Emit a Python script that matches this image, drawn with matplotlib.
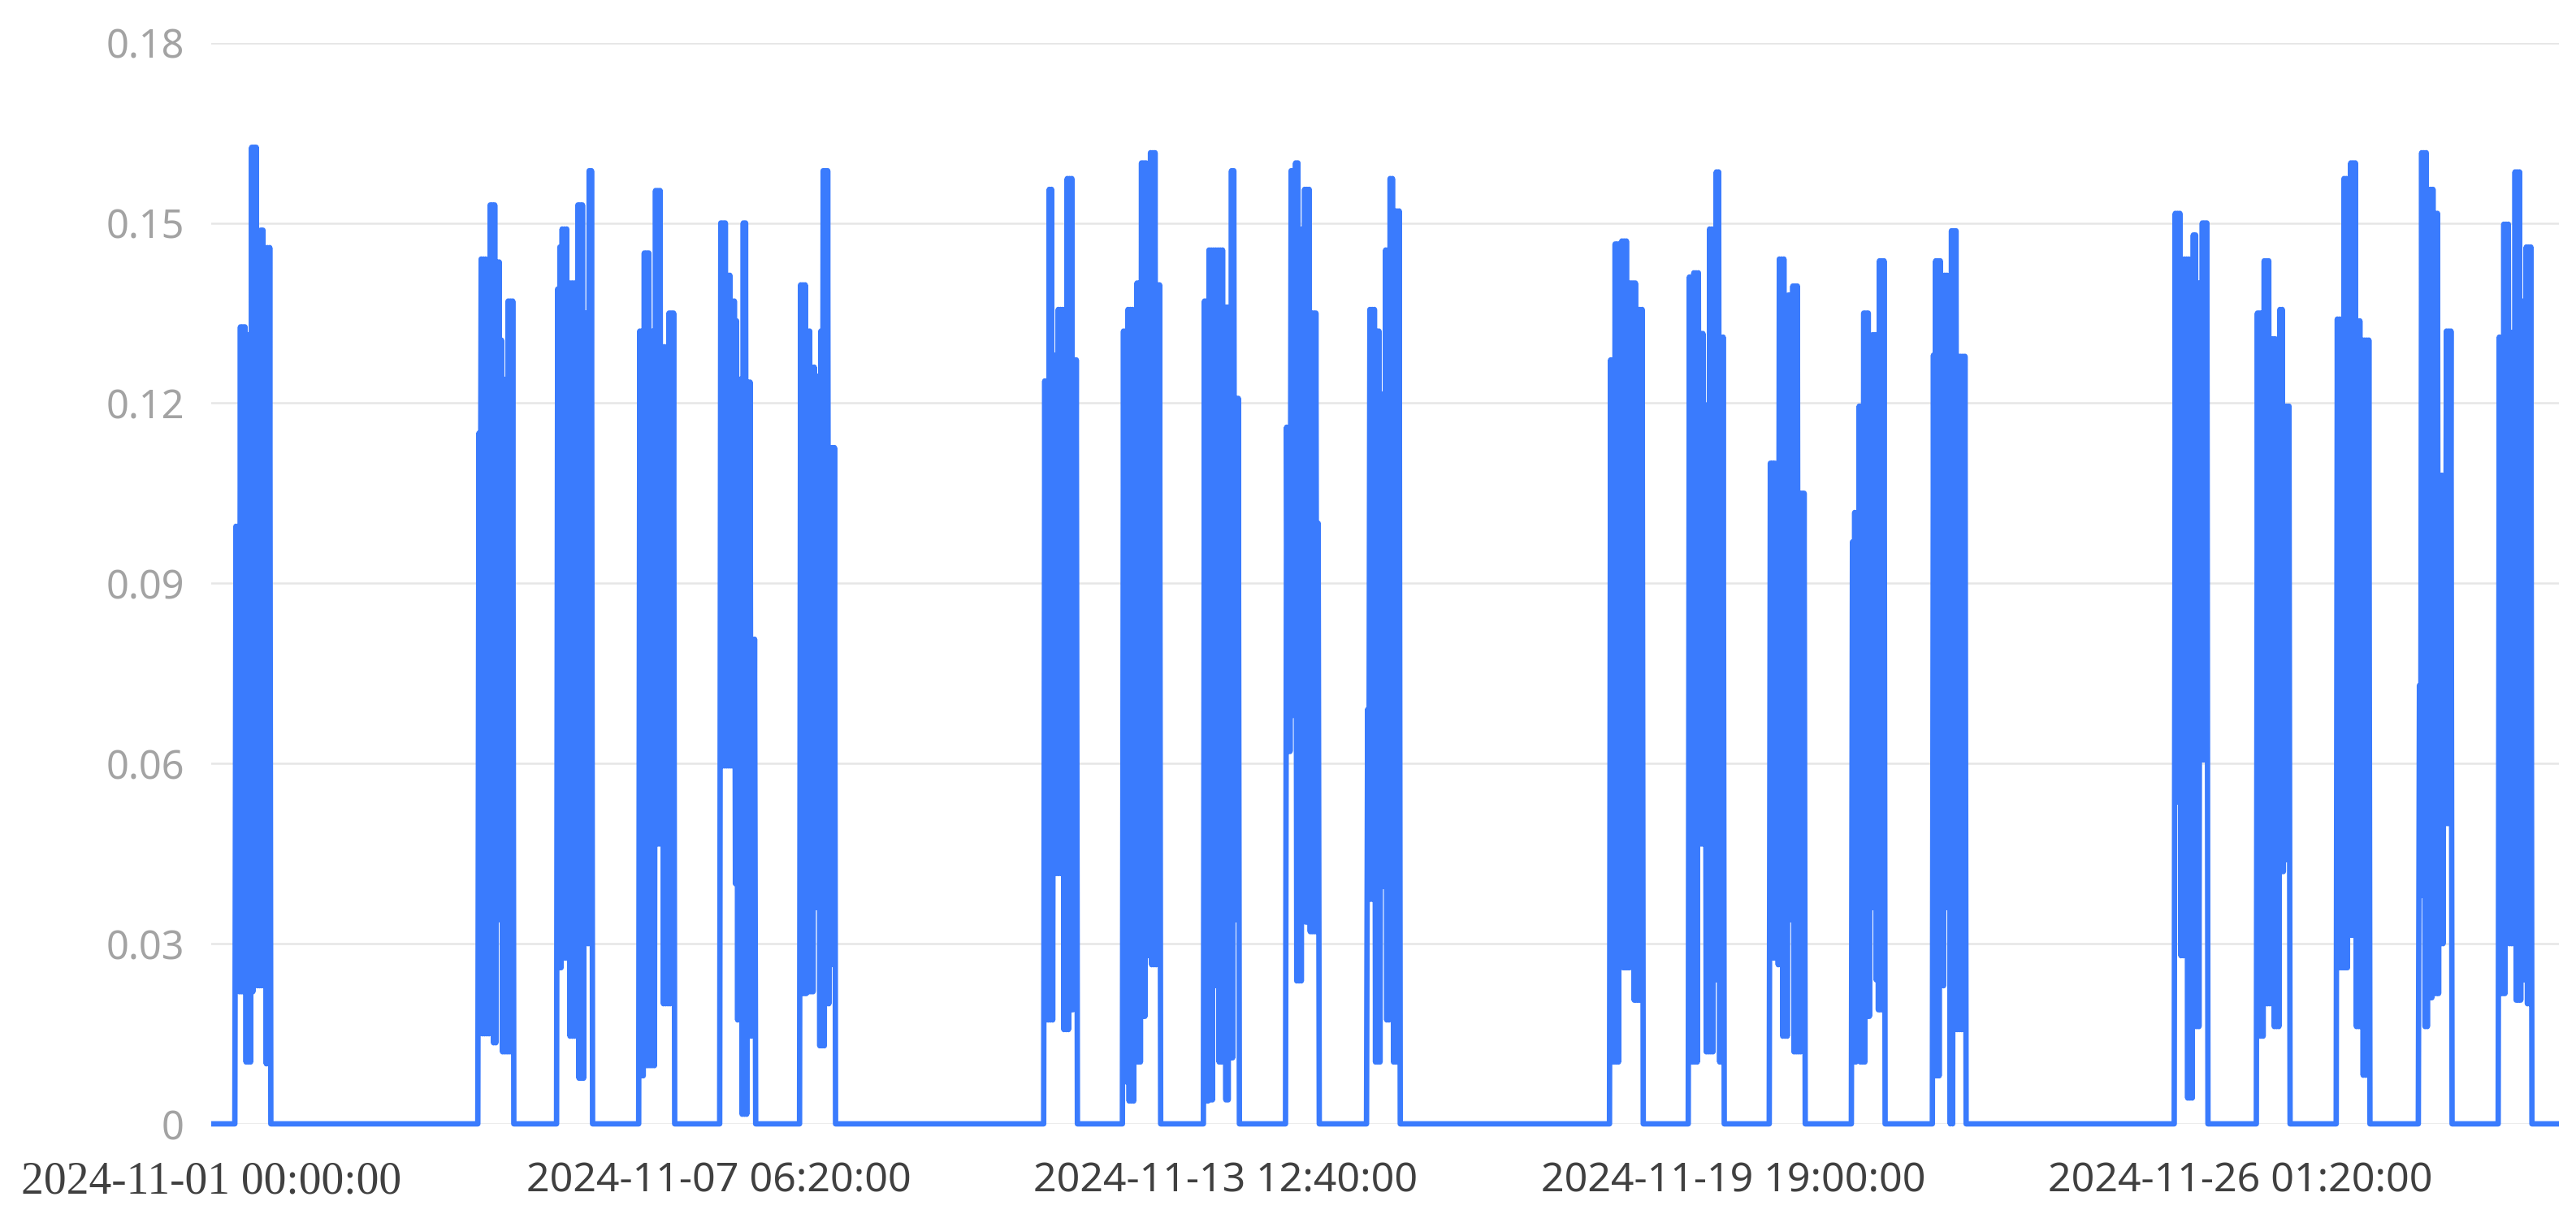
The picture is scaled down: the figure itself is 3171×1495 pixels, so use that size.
import numpy as np
import pandas as pd
import matplotlib
matplotlib.use("Agg")
import matplotlib.pyplot as plt

# ---------------- data ----------------
# 20-minute samples from 2024-11-01 00:00 to 2024-11-29 23:40; zero outside the working-day bursts
series_start = "2024-11-01 00:00:00"
n_points = 2088
step = "20min"
tick_every = 451

y_ticks = [0, 0.03, 0.06, 0.09, 0.12, 0.15, 0.18]

# each burst: (date, first 20-min slot of the day, values)
nov01 = [0.0995, 0.040, 0.0995, 0.022, 0.1327, 0.022, 0.1327, 0.022, 0.1327, 0.0103, 0.1314, 0.0103,
         0.1314, 0.0103, 0.1626, 0.022, 0.1626, 0.045, 0.1626, 0.023, 0.1446, 0.023, 0.1488, 0.023,
         0.1488, 0.023, 0.1459, 0.010, 0.1459, 0.010, 0.1459]
nov04 = [0.115, 0.069, 0.144, 0.015, 0.144, 0.015, 0.144, 0.015, 0.120, 0.015, 0.153, 0.026,
         0.153, 0.0135, 0.153, 0.0135, 0.1435, 0.034, 0.1435, 0.034, 0.1305, 0.012, 0.124, 0.012,
         0.124, 0.012, 0.137, 0.012, 0.137, 0.012, 0.137]
nov05 = [0.139, 0.026, 0.146, 0.026, 0.149, 0.0276, 0.149, 0.0276, 0.149, 0.0276, 0.140, 0.0146,
         0.140, 0.0146, 0.140, 0.0146, 0.140, 0.0146, 0.153, 0.0076, 0.153, 0.0076, 0.153, 0.0076,
         0.135, 0.030, 0.135, 0.030, 0.1587, 0.030, 0.1587]
nov06 = [0.132, 0.008, 0.132, 0.008, 0.145, 0.0097, 0.145, 0.0097, 0.145, 0.0097, 0.132, 0.0097,
         0.132, 0.0097, 0.1554, 0.0466, 0.1554, 0.0466, 0.1554, 0.0466, 0.1294, 0.020, 0.1294, 0.020,
         0.108, 0.020, 0.135, 0.020, 0.135, 0.0417, 0.135]
nov07 = [0.150, 0.0596, 0.150, 0.0596, 0.150, 0.0596, 0.1413, 0.0596, 0.1413, 0.0596, 0.137, 0.0596,
         0.137, 0.040, 0.1337, 0.0173, 0.124, 0.0173, 0.124, 0.0016, 0.150, 0.0016, 0.150, 0.0016,
         0.1235, 0.0146, 0.1235, 0.0146, 0.0807, 0.030, 0.0807]
nov08 = [0.1397, 0.0217, 0.1397, 0.0217, 0.1397, 0.0217, 0.132, 0.022, 0.132, 0.022, 0.126, 0.022,
         0.126, 0.036, 0.1245, 0.036, 0.1245, 0.013, 0.132, 0.013, 0.1587, 0.013, 0.1587, 0.020,
         0.1587, 0.020, 0.1126, 0.0265, 0.1126, 0.0265, 0.1126]
nov11 = [0.1237, 0.0173, 0.1237, 0.0173, 0.1556, 0.0173, 0.1556, 0.0173, 0.128, 0.0417, 0.128, 0.0417,
         0.1356, 0.0417, 0.1356, 0.0417, 0.1356, 0.0157, 0.1356, 0.0157, 0.1574, 0.0157, 0.1574, 0.019,
         0.1574, 0.019, 0.1272, 0.0525, 0.1272]
nov12 = [0.132, 0.007, 0.132, 0.007, 0.1356, 0.0038, 0.1356, 0.0038, 0.1356, 0.0038, 0.120, 0.0103,
         0.140, 0.0103, 0.140, 0.0103, 0.160, 0.0179, 0.160, 0.0179, 0.160, 0.028, 0.140, 0.028,
         0.1617, 0.0265, 0.1617, 0.0265, 0.1617, 0.0265, 0.1397, 0.030, 0.1397]
nov13 = [0.137, 0.0038, 0.137, 0.0038, 0.1455, 0.004, 0.1455, 0.004, 0.1455, 0.023, 0.1455, 0.023,
         0.1455, 0.0103, 0.1455, 0.0103, 0.1455, 0.0103, 0.136, 0.004, 0.136, 0.004, 0.136, 0.011,
         0.1587, 0.011, 0.1587, 0.034, 0.1208, 0.034, 0.1208]
nov14 = [0.116, 0.062, 0.116, 0.062, 0.1587, 0.068, 0.1587, 0.068, 0.160, 0.0238, 0.160, 0.0238,
         0.149, 0.0238, 0.149, 0.040, 0.1556, 0.0336, 0.1556, 0.0336, 0.1556, 0.032, 0.135, 0.032,
         0.135, 0.032, 0.135, 0.032, 0.100]
nov15 = [0.069, 0.0374, 0.1356, 0.0374, 0.1356, 0.0374, 0.1356, 0.0103, 0.132, 0.0103, 0.132, 0.0103,
         0.1215, 0.0395, 0.1215, 0.0395, 0.1455, 0.0173, 0.1455, 0.0173, 0.1574, 0.034, 0.1574, 0.0103,
         0.152, 0.0103, 0.152, 0.0103, 0.152]
nov18 = [0.1272, 0.0103, 0.1272, 0.0103, 0.1465, 0.0103, 0.1465, 0.0103, 0.1465, 0.030, 0.147, 0.026,
         0.147, 0.026, 0.147, 0.026, 0.140, 0.026, 0.140, 0.045, 0.140, 0.0206, 0.140, 0.0206,
         0.1356, 0.0206, 0.1356, 0.0206, 0.1356]
nov19 = [0.141, 0.0103, 0.141, 0.0103, 0.1417, 0.0103, 0.1417, 0.0103, 0.1417, 0.0466, 0.1316, 0.0466,
         0.1316, 0.0466, 0.1197, 0.012, 0.1197, 0.012, 0.149, 0.012, 0.149, 0.012, 0.149, 0.024,
         0.1585, 0.024, 0.1585, 0.0103, 0.131, 0.0103, 0.131]
nov20 = [0.110, 0.0276, 0.110, 0.0276, 0.110, 0.0276, 0.100, 0.0265, 0.144, 0.0265, 0.144, 0.0146,
         0.144, 0.0146, 0.135, 0.0146, 0.138, 0.034, 0.138, 0.034, 0.1395, 0.012, 0.1395, 0.012,
         0.1395, 0.012, 0.105, 0.012, 0.105, 0.025, 0.105]
nov21 = [0.0969, 0.0103, 0.1018, 0.0103, 0.1018, 0.0146, 0.1195, 0.0103, 0.1195, 0.0103, 0.135, 0.0103,
         0.135, 0.0179, 0.135, 0.0179, 0.120, 0.036, 0.1314, 0.036, 0.1314, 0.024, 0.1314, 0.019,
         0.1437, 0.019, 0.1437, 0.019, 0.1437]
nov22 = [0.128, 0.008, 0.1437, 0.008, 0.1437, 0.008, 0.1437, 0.023, 0.1413, 0.023, 0.1413, 0.036,
         0.1413, 0.036, 0.120, 0.0, 0.1487, 0.0, 0.1487, 0.0157, 0.1487, 0.0157, 0.1278, 0.0157,
         0.1278, 0.0157, 0.1278, 0.0157, 0.1278]
nov25 = [0.1516, 0.0536, 0.1516, 0.0536, 0.1516, 0.028, 0.144, 0.028, 0.144, 0.028, 0.144, 0.0043,
         0.144, 0.0043, 0.140, 0.0043, 0.148, 0.0162, 0.148, 0.0162, 0.140, 0.0162, 0.140, 0.0606,
         0.150, 0.0606, 0.150, 0.0606, 0.150]
nov26 = [0.135, 0.0146, 0.135, 0.0146, 0.135, 0.0146, 0.1437, 0.020, 0.1437, 0.020, 0.1437, 0.020,
         0.1307, 0.020, 0.1307, 0.0162, 0.1307, 0.0162, 0.1275, 0.0162, 0.1356, 0.042, 0.1356, 0.042,
         0.1195, 0.044, 0.1195, 0.044, 0.1195]
nov27 = [0.134, 0.026, 0.134, 0.026, 0.134, 0.026, 0.1574, 0.026, 0.1574, 0.026, 0.140, 0.0314,
         0.160, 0.0314, 0.160, 0.0314, 0.160, 0.0162, 0.1337, 0.0162, 0.1337, 0.0162, 0.1305, 0.0081,
         0.1305, 0.0081, 0.1305, 0.0081, 0.1305]
nov28 = [0.073, 0.038, 0.1617, 0.038, 0.1617, 0.0162, 0.1617, 0.0162, 0.1556, 0.021, 0.1556, 0.021,
         0.1556, 0.0217, 0.1516, 0.0217, 0.1516, 0.0217, 0.108, 0.030, 0.108, 0.030, 0.100, 0.050,
         0.132, 0.050, 0.132, 0.050, 0.132]
nov29 = [0.131, 0.0217, 0.131, 0.0217, 0.1498, 0.0217, 0.1498, 0.038, 0.1498, 0.030, 0.1318, 0.030,
         0.1318, 0.030, 0.1585, 0.0206, 0.1585, 0.0206, 0.1585, 0.0206, 0.137, 0.024, 0.137, 0.024,
         0.146, 0.020, 0.146, 0.020, 0.146]

bursts = [
    ("2024-11-01", 22, nov01),
    ("2024-11-04", 22, nov04),
    ("2024-11-05", 20, nov05),
    ("2024-11-06", 21, nov06),
    ("2024-11-07", 21, nov07),
    ("2024-11-08", 20, nov08),
    ("2024-11-11", 21, nov11),
    ("2024-11-12", 19, nov12),
    ("2024-11-13", 19, nov13),
    ("2024-11-14", 20, nov14),
    ("2024-11-15", 20, nov15),
    ("2024-11-18", 20, nov18),
    ("2024-11-19", 18, nov19),
    ("2024-11-20", 18, nov20),
    ("2024-11-21", 19, nov21),
    ("2024-11-22", 19, nov22),
    ("2024-11-25", 18, nov25),
    ("2024-11-26", 19, nov26),
    ("2024-11-27", 18, nov27),
    ("2024-11-28", 19, nov28),
    ("2024-11-29", 18, nov29),
]

# ---------------- build series ----------------
times = pd.date_range(series_start, periods=n_points, freq=step)
values = np.zeros(n_points)
slots_per_day = 72
t0 = pd.Timestamp(series_start)
for date, slot, seq in bursts:
    day = (pd.Timestamp(date) - t0).days
    i0 = day * slots_per_day + slot
    values[i0:i0 + len(seq)] = seq

x = np.arange(n_points)

# ---------------- figure ----------------
W, H = 3171, 1495
fig = plt.figure(figsize=(W / 100, H / 100), dpi=100)
left, right, top, bottom = 260, 3150, 52.7, 1384
ax = fig.add_axes([left / W, 1 - bottom / H, (right - left) / W, (bottom - top) / H])

line_color = "#3A7BFD"
ax.plot(x, values, color=line_color, lw=4.8, solid_joinstyle="round", solid_capstyle="butt",
        clip_on=False, zorder=3)

ax.set_xlim(0, n_points - 1)
ax.set_ylim(0, 0.18)

ax.set_yticks(y_ticks)
ax.set_yticklabels([f"{v:g}" for v in y_ticks])
ax.yaxis.grid(True, color="#E6E6E6", lw=1.8)
ax.set_axisbelow(True)

tick_idx = list(range(0, n_points, tick_every))
ax.set_xticks(tick_idx)
ax.set_xticklabels([times[i].strftime("%Y-%m-%d %H:%M:%S") for i in tick_idx])

for s in ax.spines.values():
    s.set_visible(False)

ax.tick_params(axis="y", length=0, pad=24, labelsize=35, labelcolor="#A3A3A3")
ax.tick_params(axis="x", length=0, pad=33, labelsize=36, labelcolor="#404040")
for lab in ax.get_yticklabels():
    lab.set_fontfamily("Noto Sans")
xl = ax.get_xticklabels()
for lab in xl:
    lab.set_fontfamily("Noto Sans")
xl[0].set_fontfamily("Liberation Serif")
xl[0].set_fontsize(40)

fig.savefig("out.png", dpi=100, facecolor="white")
